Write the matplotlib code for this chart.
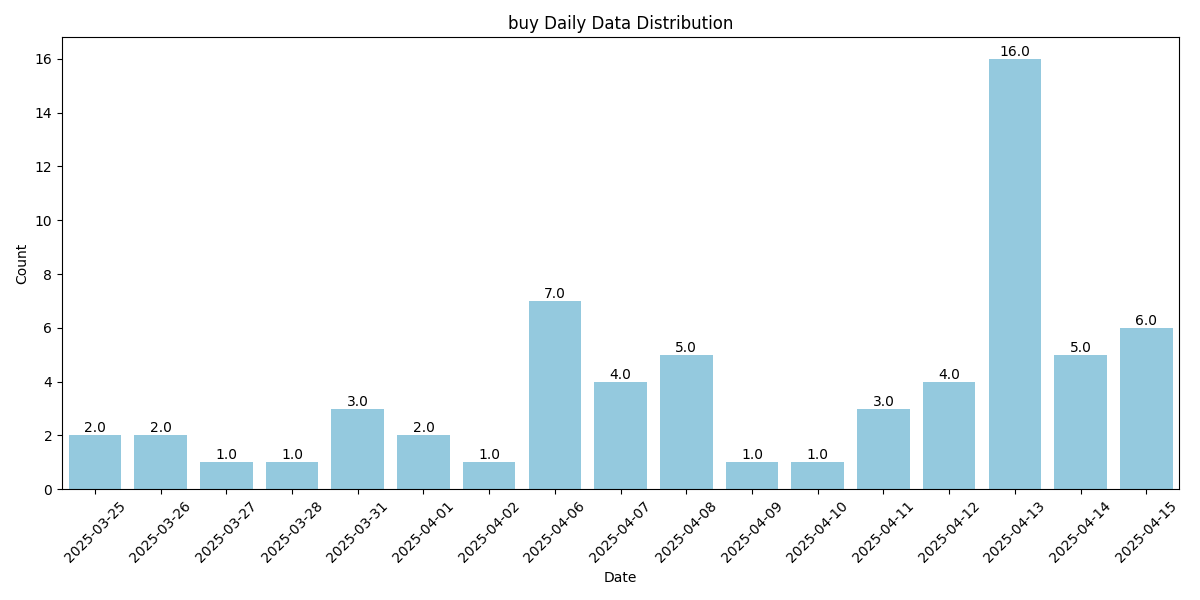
import matplotlib
matplotlib.use("Agg")
import matplotlib.pyplot as plt
import seaborn as sns
import pandas as pd

dates = ["2025-03-25", "2025-03-26", "2025-03-27", "2025-03-28", "2025-03-31",
         "2025-04-01", "2025-04-02", "2025-04-06", "2025-04-07", "2025-04-08",
         "2025-04-09", "2025-04-10", "2025-04-11", "2025-04-12", "2025-04-13",
         "2025-04-14", "2025-04-15"]
counts = [2, 2, 1, 1, 3, 2, 1, 7, 4, 5, 1, 1, 3, 4, 16, 5, 6]

df = pd.DataFrame({"Date": dates, "Count": counts})

fig, ax = plt.subplots(figsize=(12, 6), dpi=100)
sns.barplot(data=df, x="Date", y="Count", color="skyblue", ax=ax)
for p, v in zip(ax.patches, counts):
    ax.annotate(f"{float(v):.1f}", (p.get_x() + p.get_width() / 2, p.get_height()),
                ha="center", va="bottom", fontsize=10)
ax.set_title("buy Daily Data Distribution")
ax.set_xlabel("Date")
ax.set_ylabel("Count")
plt.xticks(rotation=45)
plt.tight_layout()
fig.savefig("out.png")
